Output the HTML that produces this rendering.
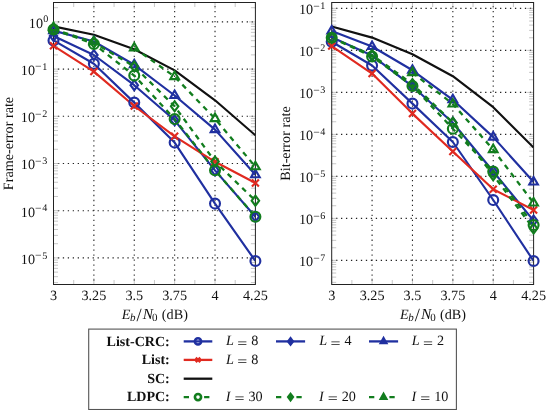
<!DOCTYPE html>
<html><head><meta charset="utf-8"><title>Error rate plots</title>
<style>
html,body{margin:0;padding:0;background:#fff}
svg{display:block}
text{font-family:"Liberation Serif","DejaVu Serif",serif;fill:#111;text-rendering:geometricPrecision}
.tl{font-size:14.2px}
.lb{font-size:14.05px;font-weight:bold}
.sp{font-size:10.1px}
.mn{font-size:11.6px}
.g{stroke:#222;stroke-width:1.1;stroke-dasharray:1.3 3.67;fill:none}
.t{stroke:#999;stroke-width:0.55;fill:none}
</style></head><body>
<svg width="547" height="410" viewBox="0 0 547 410">
<defs>
<clipPath id="cL"><rect x="53.5" y="2.5" width="201.90" height="282.00"/></clipPath>
<clipPath id="cR"><rect x="331.7" y="2.5" width="201.90" height="282.00"/></clipPath>
</defs>
<rect width="547" height="410" fill="#fff"/>
<line x1="93.88" y1="2.5" x2="93.88" y2="284.5" class="g" stroke-dashoffset="1.47"/>
<line x1="134.26" y1="2.5" x2="134.26" y2="284.5" class="g" stroke-dashoffset="1.47"/>
<line x1="174.64" y1="2.5" x2="174.64" y2="284.5" class="g" stroke-dashoffset="1.47"/>
<line x1="215.02" y1="2.5" x2="215.02" y2="284.5" class="g" stroke-dashoffset="1.47"/>
<line x1="53.5" y1="257.90" x2="255.4" y2="257.90" class="g" stroke-dashoffset="0.65"/>
<line x1="53.5" y1="210.70" x2="255.4" y2="210.70" class="g" stroke-dashoffset="0.65"/>
<line x1="53.5" y1="163.50" x2="255.4" y2="163.50" class="g" stroke-dashoffset="0.65"/>
<line x1="53.5" y1="116.30" x2="255.4" y2="116.30" class="g" stroke-dashoffset="0.65"/>
<line x1="53.5" y1="69.10" x2="255.4" y2="69.10" class="g" stroke-dashoffset="0.65"/>
<line x1="53.5" y1="21.90" x2="255.4" y2="21.90" class="g" stroke-dashoffset="0.65"/>
<path d="M53.50 284.5v-6.4M53.50 2.5v6.4" class="t"/>
<path d="M93.88 284.5v-6.4M93.88 2.5v6.4" class="t"/>
<path d="M134.26 284.5v-6.4M134.26 2.5v6.4" class="t"/>
<path d="M174.64 284.5v-6.4M174.64 2.5v6.4" class="t"/>
<path d="M215.02 284.5v-6.4M215.02 2.5v6.4" class="t"/>
<path d="M255.40 284.5v-6.4M255.40 2.5v6.4" class="t"/>
<path d="M73.69 284.5v-4.5M73.69 2.5v4.5" class="t"/>
<path d="M114.07 284.5v-4.5M114.07 2.5v4.5" class="t"/>
<path d="M154.45 284.5v-4.5M154.45 2.5v4.5" class="t"/>
<path d="M194.83 284.5v-4.5M194.83 2.5v4.5" class="t"/>
<path d="M235.21 284.5v-4.5M235.21 2.5v4.5" class="t"/>
<path d="M53.5 282.58h4.5M255.4 282.58h-4.5" class="t"/>
<path d="M53.5 276.68h4.5M255.4 276.68h-4.5" class="t"/>
<path d="M53.5 272.11h4.5M255.4 272.11h-4.5" class="t"/>
<path d="M53.5 268.37h4.5M255.4 268.37h-4.5" class="t"/>
<path d="M53.5 265.21h4.5M255.4 265.21h-4.5" class="t"/>
<path d="M53.5 262.47h4.5M255.4 262.47h-4.5" class="t"/>
<path d="M53.5 260.06h4.5M255.4 260.06h-4.5" class="t"/>
<path d="M53.5 257.90h6.4M255.4 257.90h-6.4" class="t"/>
<path d="M53.5 243.69h4.5M255.4 243.69h-4.5" class="t"/>
<path d="M53.5 235.38h4.5M255.4 235.38h-4.5" class="t"/>
<path d="M53.5 229.48h4.5M255.4 229.48h-4.5" class="t"/>
<path d="M53.5 224.91h4.5M255.4 224.91h-4.5" class="t"/>
<path d="M53.5 221.17h4.5M255.4 221.17h-4.5" class="t"/>
<path d="M53.5 218.01h4.5M255.4 218.01h-4.5" class="t"/>
<path d="M53.5 215.27h4.5M255.4 215.27h-4.5" class="t"/>
<path d="M53.5 212.86h4.5M255.4 212.86h-4.5" class="t"/>
<path d="M53.5 210.70h6.4M255.4 210.70h-6.4" class="t"/>
<path d="M53.5 196.49h4.5M255.4 196.49h-4.5" class="t"/>
<path d="M53.5 188.18h4.5M255.4 188.18h-4.5" class="t"/>
<path d="M53.5 182.28h4.5M255.4 182.28h-4.5" class="t"/>
<path d="M53.5 177.71h4.5M255.4 177.71h-4.5" class="t"/>
<path d="M53.5 173.97h4.5M255.4 173.97h-4.5" class="t"/>
<path d="M53.5 170.81h4.5M255.4 170.81h-4.5" class="t"/>
<path d="M53.5 168.07h4.5M255.4 168.07h-4.5" class="t"/>
<path d="M53.5 165.66h4.5M255.4 165.66h-4.5" class="t"/>
<path d="M53.5 163.50h6.4M255.4 163.50h-6.4" class="t"/>
<path d="M53.5 149.29h4.5M255.4 149.29h-4.5" class="t"/>
<path d="M53.5 140.98h4.5M255.4 140.98h-4.5" class="t"/>
<path d="M53.5 135.08h4.5M255.4 135.08h-4.5" class="t"/>
<path d="M53.5 130.51h4.5M255.4 130.51h-4.5" class="t"/>
<path d="M53.5 126.77h4.5M255.4 126.77h-4.5" class="t"/>
<path d="M53.5 123.61h4.5M255.4 123.61h-4.5" class="t"/>
<path d="M53.5 120.87h4.5M255.4 120.87h-4.5" class="t"/>
<path d="M53.5 118.46h4.5M255.4 118.46h-4.5" class="t"/>
<path d="M53.5 116.30h6.4M255.4 116.30h-6.4" class="t"/>
<path d="M53.5 102.09h4.5M255.4 102.09h-4.5" class="t"/>
<path d="M53.5 93.78h4.5M255.4 93.78h-4.5" class="t"/>
<path d="M53.5 87.88h4.5M255.4 87.88h-4.5" class="t"/>
<path d="M53.5 83.31h4.5M255.4 83.31h-4.5" class="t"/>
<path d="M53.5 79.57h4.5M255.4 79.57h-4.5" class="t"/>
<path d="M53.5 76.41h4.5M255.4 76.41h-4.5" class="t"/>
<path d="M53.5 73.67h4.5M255.4 73.67h-4.5" class="t"/>
<path d="M53.5 71.26h4.5M255.4 71.26h-4.5" class="t"/>
<path d="M53.5 69.10h6.4M255.4 69.10h-6.4" class="t"/>
<path d="M53.5 54.89h4.5M255.4 54.89h-4.5" class="t"/>
<path d="M53.5 46.58h4.5M255.4 46.58h-4.5" class="t"/>
<path d="M53.5 40.68h4.5M255.4 40.68h-4.5" class="t"/>
<path d="M53.5 36.11h4.5M255.4 36.11h-4.5" class="t"/>
<path d="M53.5 32.37h4.5M255.4 32.37h-4.5" class="t"/>
<path d="M53.5 29.21h4.5M255.4 29.21h-4.5" class="t"/>
<path d="M53.5 26.47h4.5M255.4 26.47h-4.5" class="t"/>
<path d="M53.5 24.06h4.5M255.4 24.06h-4.5" class="t"/>
<path d="M53.5 21.90h6.4M255.4 21.90h-6.4" class="t"/>
<path d="M53.5 7.69h4.5M255.4 7.69h-4.5" class="t"/>
<rect x="53.5" y="2.5" width="201.90" height="282.00" fill="none" stroke="#222" stroke-width="1.0"/>
<polyline points="53.50,40.40 93.88,63.80 134.26,102.60 174.64,142.60 215.02,203.60 255.40,261.00" fill="none" stroke="#2030a0" stroke-width="2.15" stroke-linejoin="round" clip-path="url(#cL)"/>
<polyline points="53.50,36.00 93.88,55.00 134.26,85.20 174.64,120.30 215.02,170.40 255.40,216.70" fill="none" stroke="#2030a0" stroke-width="2.15" stroke-linejoin="round" clip-path="url(#cL)"/>
<polyline points="53.50,30.60 93.88,41.50 134.26,64.80 174.64,95.50 215.02,129.60 255.40,174.80" fill="none" stroke="#2030a0" stroke-width="2.15" stroke-linejoin="round" clip-path="url(#cL)"/>
<polyline points="53.50,45.80 93.88,71.60 134.26,106.00 174.64,136.30 215.02,161.80 255.40,183.00" fill="none" stroke="#e02a20" stroke-width="2.15" stroke-linejoin="round" clip-path="url(#cL)"/>
<polyline points="53.50,26.40 93.88,34.80 134.26,49.20 174.64,70.40 215.02,100.30 255.40,135.30" fill="none" stroke="#111" stroke-width="2.15" stroke-linejoin="round" clip-path="url(#cL)"/>
<polyline points="53.50,29.40 93.88,43.90 134.26,75.60 174.64,119.00 215.02,170.30 255.40,216.70" fill="none" stroke="#127d1e" stroke-width="2.3" stroke-dasharray="5.2 4.9" stroke-linejoin="round" clip-path="url(#cL)"/>
<polyline points="53.50,29.00 93.88,42.60 134.26,66.50 174.64,106.30 215.02,161.50 255.40,200.70" fill="none" stroke="#127d1e" stroke-width="2.3" stroke-dasharray="5.2 4.9" stroke-linejoin="round" clip-path="url(#cL)"/>
<polyline points="134.26,48.00 174.64,76.60 215.02,118.60 255.40,166.80" fill="none" stroke="#127d1e" stroke-width="2.3" stroke-dasharray="5.2 4.9" stroke-linejoin="round" clip-path="url(#cL)"/>
<circle cx="53.50" cy="40.40" r="4.95" fill="none" stroke="#2030a0" stroke-width="2.15"/>
<circle cx="93.88" cy="63.80" r="4.95" fill="none" stroke="#2030a0" stroke-width="2.15"/>
<circle cx="134.26" cy="102.60" r="4.95" fill="none" stroke="#2030a0" stroke-width="2.15"/>
<circle cx="174.64" cy="142.60" r="4.95" fill="none" stroke="#2030a0" stroke-width="2.15"/>
<circle cx="215.02" cy="203.60" r="4.95" fill="none" stroke="#2030a0" stroke-width="2.15"/>
<circle cx="255.40" cy="261.00" r="4.95" fill="none" stroke="#2030a0" stroke-width="2.15"/>
<path d="M53.50 31.05L57.21 36.00L53.50 40.95L49.79 36.00Z" fill="none" stroke="#2030a0" stroke-width="2.15" stroke-linejoin="miter"/>
<path d="M93.88 50.05L97.59 55.00L93.88 59.95L90.17 55.00Z" fill="none" stroke="#2030a0" stroke-width="2.15" stroke-linejoin="miter"/>
<path d="M134.26 80.25L137.97 85.20L134.26 90.15L130.55 85.20Z" fill="none" stroke="#2030a0" stroke-width="2.15" stroke-linejoin="miter"/>
<path d="M174.64 115.35L178.35 120.30L174.64 125.25L170.93 120.30Z" fill="none" stroke="#2030a0" stroke-width="2.15" stroke-linejoin="miter"/>
<path d="M215.02 165.45L218.73 170.40L215.02 175.35L211.31 170.40Z" fill="none" stroke="#2030a0" stroke-width="2.15" stroke-linejoin="miter"/>
<path d="M255.40 211.75L259.11 216.70L255.40 221.65L251.69 216.70Z" fill="none" stroke="#2030a0" stroke-width="2.15" stroke-linejoin="miter"/>
<path d="M53.50 25.65L49.21 33.08L57.79 33.08Z" fill="none" stroke="#2030a0" stroke-width="2.15" stroke-linejoin="miter"/>
<path d="M93.88 36.55L89.59 43.98L98.17 43.98Z" fill="none" stroke="#2030a0" stroke-width="2.15" stroke-linejoin="miter"/>
<path d="M134.26 59.85L129.97 67.27L138.55 67.27Z" fill="none" stroke="#2030a0" stroke-width="2.15" stroke-linejoin="miter"/>
<path d="M174.64 90.55L170.35 97.97L178.93 97.97Z" fill="none" stroke="#2030a0" stroke-width="2.15" stroke-linejoin="miter"/>
<path d="M215.02 124.65L210.73 132.07L219.31 132.07Z" fill="none" stroke="#2030a0" stroke-width="2.15" stroke-linejoin="miter"/>
<path d="M255.40 169.85L251.11 177.28L259.69 177.28Z" fill="none" stroke="#2030a0" stroke-width="2.15" stroke-linejoin="miter"/>
<path d="M50.00 42.30L57.00 49.30M50.00 49.30L57.00 42.30" fill="none" stroke="#e02a20" stroke-width="2.15"/>
<path d="M90.38 68.10L97.38 75.10M90.38 75.10L97.38 68.10" fill="none" stroke="#e02a20" stroke-width="2.15"/>
<path d="M130.76 102.50L137.76 109.50M130.76 109.50L137.76 102.50" fill="none" stroke="#e02a20" stroke-width="2.15"/>
<path d="M171.14 132.80L178.14 139.80M171.14 139.80L178.14 132.80" fill="none" stroke="#e02a20" stroke-width="2.15"/>
<path d="M211.52 158.30L218.52 165.30M211.52 165.30L218.52 158.30" fill="none" stroke="#e02a20" stroke-width="2.15"/>
<path d="M251.90 179.50L258.90 186.50M251.90 186.50L258.90 179.50" fill="none" stroke="#e02a20" stroke-width="2.15"/>






<circle cx="53.50" cy="29.40" r="4.95" fill="none" stroke="#127d1e" stroke-width="2.15"/>
<circle cx="93.88" cy="43.90" r="4.95" fill="none" stroke="#127d1e" stroke-width="2.15"/>
<circle cx="134.26" cy="75.60" r="4.95" fill="none" stroke="#127d1e" stroke-width="2.15"/>
<circle cx="174.64" cy="119.00" r="4.95" fill="none" stroke="#127d1e" stroke-width="2.15"/>
<circle cx="215.02" cy="170.30" r="4.95" fill="none" stroke="#127d1e" stroke-width="2.15"/>
<circle cx="255.40" cy="216.70" r="4.95" fill="none" stroke="#127d1e" stroke-width="2.15"/>
<path d="M53.50 24.05L57.21 29.00L53.50 33.95L49.79 29.00Z" fill="none" stroke="#127d1e" stroke-width="2.15" stroke-linejoin="miter"/>
<path d="M93.88 37.65L97.59 42.60L93.88 47.55L90.17 42.60Z" fill="none" stroke="#127d1e" stroke-width="2.15" stroke-linejoin="miter"/>
<path d="M134.26 61.55L137.97 66.50L134.26 71.45L130.55 66.50Z" fill="none" stroke="#127d1e" stroke-width="2.15" stroke-linejoin="miter"/>
<path d="M174.64 101.35L178.35 106.30L174.64 111.25L170.93 106.30Z" fill="none" stroke="#127d1e" stroke-width="2.15" stroke-linejoin="miter"/>
<path d="M215.02 156.55L218.73 161.50L215.02 166.45L211.31 161.50Z" fill="none" stroke="#127d1e" stroke-width="2.15" stroke-linejoin="miter"/>
<path d="M255.40 195.75L259.11 200.70L255.40 205.65L251.69 200.70Z" fill="none" stroke="#127d1e" stroke-width="2.15" stroke-linejoin="miter"/>
<path d="M53.50 22.55L49.21 29.98L57.79 29.98Z" fill="none" stroke="#127d1e" stroke-width="2.15" stroke-linejoin="miter"/>
<path d="M93.88 36.85L89.59 44.27L98.17 44.27Z" fill="none" stroke="#127d1e" stroke-width="2.15" stroke-linejoin="miter"/>
<path d="M134.26 43.05L129.97 50.48L138.55 50.48Z" fill="none" stroke="#127d1e" stroke-width="2.15" stroke-linejoin="miter"/>
<path d="M174.64 71.65L170.35 79.07L178.93 79.07Z" fill="none" stroke="#127d1e" stroke-width="2.15" stroke-linejoin="miter"/>
<path d="M215.02 113.65L210.73 121.07L219.31 121.07Z" fill="none" stroke="#127d1e" stroke-width="2.15" stroke-linejoin="miter"/>
<path d="M255.40 161.85L251.11 169.28L259.69 169.28Z" fill="none" stroke="#127d1e" stroke-width="2.15" stroke-linejoin="miter"/>
<text x="53.50" y="299.7" text-anchor="middle" class="tl">3</text>
<text x="93.88" y="299.7" text-anchor="middle" class="tl">3.25</text>
<text x="134.26" y="299.7" text-anchor="middle" class="tl">3.5</text>
<text x="174.64" y="299.7" text-anchor="middle" class="tl">3.75</text>
<text x="215.02" y="299.7" text-anchor="middle" class="tl">4</text>
<text x="255.40" y="299.7" text-anchor="middle" class="tl">4.25</text>
<text x="47.20" y="258.60" text-anchor="end" class="sp">5</text>
<text x="41.60" y="259.20" text-anchor="end" class="mn">−</text>
<text x="35.00" y="263.80" text-anchor="end" class="tl">10</text>
<text x="47.20" y="211.40" text-anchor="end" class="sp">4</text>
<text x="41.60" y="212.00" text-anchor="end" class="mn">−</text>
<text x="35.00" y="216.60" text-anchor="end" class="tl">10</text>
<text x="47.20" y="164.20" text-anchor="end" class="sp">3</text>
<text x="41.60" y="164.80" text-anchor="end" class="mn">−</text>
<text x="35.00" y="169.40" text-anchor="end" class="tl">10</text>
<text x="47.20" y="117.00" text-anchor="end" class="sp">2</text>
<text x="41.60" y="117.60" text-anchor="end" class="mn">−</text>
<text x="35.00" y="122.20" text-anchor="end" class="tl">10</text>
<text x="47.20" y="69.80" text-anchor="end" class="sp">1</text>
<text x="41.60" y="70.40" text-anchor="end" class="mn">−</text>
<text x="35.00" y="75.00" text-anchor="end" class="tl">10</text>
<text x="48.20" y="22.10" text-anchor="end" class="sp">0</text>
<text x="43.00" y="27.50" text-anchor="end" class="tl">10</text>
<text y="318.5" class="tl"><tspan x="121.75" font-style="italic">E</tspan><tspan x="129.95" dy="2.1" font-size="11" font-style="italic">b</tspan><tspan x="161.85" dy="-2.1">(dB)</tspan><tspan x="142.75" font-style="italic" font-size="15.4">N</tspan><tspan x="151.95" dy="2.1" font-size="11">0</tspan></text>
<text x="136.45" y="320.9" font-size="18.5" class="sl">/</text>
<text transform="translate(12.8,143.50) rotate(-90)" text-anchor="middle" class="tl">Frame-error rate</text>
<line x1="372.08" y1="2.5" x2="372.08" y2="284.5" class="g" stroke-dashoffset="1.47"/>
<line x1="412.46" y1="2.5" x2="412.46" y2="284.5" class="g" stroke-dashoffset="1.47"/>
<line x1="452.84" y1="2.5" x2="452.84" y2="284.5" class="g" stroke-dashoffset="1.47"/>
<line x1="493.22" y1="2.5" x2="493.22" y2="284.5" class="g" stroke-dashoffset="1.47"/>
<line x1="331.7" y1="260.40" x2="533.6" y2="260.40" class="g" stroke-dashoffset="0.65"/>
<line x1="331.7" y1="218.40" x2="533.6" y2="218.40" class="g" stroke-dashoffset="0.65"/>
<line x1="331.7" y1="176.40" x2="533.6" y2="176.40" class="g" stroke-dashoffset="0.65"/>
<line x1="331.7" y1="134.40" x2="533.6" y2="134.40" class="g" stroke-dashoffset="0.65"/>
<line x1="331.7" y1="92.40" x2="533.6" y2="92.40" class="g" stroke-dashoffset="0.65"/>
<line x1="331.7" y1="50.40" x2="533.6" y2="50.40" class="g" stroke-dashoffset="0.65"/>
<line x1="331.7" y1="8.40" x2="533.6" y2="8.40" class="g" stroke-dashoffset="0.65"/>
<path d="M331.70 284.5v-6.4M331.70 2.5v6.4" class="t"/>
<path d="M372.08 284.5v-6.4M372.08 2.5v6.4" class="t"/>
<path d="M412.46 284.5v-6.4M412.46 2.5v6.4" class="t"/>
<path d="M452.84 284.5v-6.4M452.84 2.5v6.4" class="t"/>
<path d="M493.22 284.5v-6.4M493.22 2.5v6.4" class="t"/>
<path d="M533.60 284.5v-6.4M533.60 2.5v6.4" class="t"/>
<path d="M351.89 284.5v-4.5M351.89 2.5v4.5" class="t"/>
<path d="M392.27 284.5v-4.5M392.27 2.5v4.5" class="t"/>
<path d="M432.65 284.5v-4.5M432.65 2.5v4.5" class="t"/>
<path d="M473.03 284.5v-4.5M473.03 2.5v4.5" class="t"/>
<path d="M513.41 284.5v-4.5M513.41 2.5v4.5" class="t"/>
<path d="M331.7 282.36h4.5M533.6 282.36h-4.5" class="t"/>
<path d="M331.7 277.11h4.5M533.6 277.11h-4.5" class="t"/>
<path d="M331.7 273.04h4.5M533.6 273.04h-4.5" class="t"/>
<path d="M331.7 269.72h4.5M533.6 269.72h-4.5" class="t"/>
<path d="M331.7 266.91h4.5M533.6 266.91h-4.5" class="t"/>
<path d="M331.7 264.47h4.5M533.6 264.47h-4.5" class="t"/>
<path d="M331.7 262.32h4.5M533.6 262.32h-4.5" class="t"/>
<path d="M331.7 260.40h6.4M533.6 260.40h-6.4" class="t"/>
<path d="M331.7 247.76h4.5M533.6 247.76h-4.5" class="t"/>
<path d="M331.7 240.36h4.5M533.6 240.36h-4.5" class="t"/>
<path d="M331.7 235.11h4.5M533.6 235.11h-4.5" class="t"/>
<path d="M331.7 231.04h4.5M533.6 231.04h-4.5" class="t"/>
<path d="M331.7 227.72h4.5M533.6 227.72h-4.5" class="t"/>
<path d="M331.7 224.91h4.5M533.6 224.91h-4.5" class="t"/>
<path d="M331.7 222.47h4.5M533.6 222.47h-4.5" class="t"/>
<path d="M331.7 220.32h4.5M533.6 220.32h-4.5" class="t"/>
<path d="M331.7 218.40h6.4M533.6 218.40h-6.4" class="t"/>
<path d="M331.7 205.76h4.5M533.6 205.76h-4.5" class="t"/>
<path d="M331.7 198.36h4.5M533.6 198.36h-4.5" class="t"/>
<path d="M331.7 193.11h4.5M533.6 193.11h-4.5" class="t"/>
<path d="M331.7 189.04h4.5M533.6 189.04h-4.5" class="t"/>
<path d="M331.7 185.72h4.5M533.6 185.72h-4.5" class="t"/>
<path d="M331.7 182.91h4.5M533.6 182.91h-4.5" class="t"/>
<path d="M331.7 180.47h4.5M533.6 180.47h-4.5" class="t"/>
<path d="M331.7 178.32h4.5M533.6 178.32h-4.5" class="t"/>
<path d="M331.7 176.40h6.4M533.6 176.40h-6.4" class="t"/>
<path d="M331.7 163.76h4.5M533.6 163.76h-4.5" class="t"/>
<path d="M331.7 156.36h4.5M533.6 156.36h-4.5" class="t"/>
<path d="M331.7 151.11h4.5M533.6 151.11h-4.5" class="t"/>
<path d="M331.7 147.04h4.5M533.6 147.04h-4.5" class="t"/>
<path d="M331.7 143.72h4.5M533.6 143.72h-4.5" class="t"/>
<path d="M331.7 140.91h4.5M533.6 140.91h-4.5" class="t"/>
<path d="M331.7 138.47h4.5M533.6 138.47h-4.5" class="t"/>
<path d="M331.7 136.32h4.5M533.6 136.32h-4.5" class="t"/>
<path d="M331.7 134.40h6.4M533.6 134.40h-6.4" class="t"/>
<path d="M331.7 121.76h4.5M533.6 121.76h-4.5" class="t"/>
<path d="M331.7 114.36h4.5M533.6 114.36h-4.5" class="t"/>
<path d="M331.7 109.11h4.5M533.6 109.11h-4.5" class="t"/>
<path d="M331.7 105.04h4.5M533.6 105.04h-4.5" class="t"/>
<path d="M331.7 101.72h4.5M533.6 101.72h-4.5" class="t"/>
<path d="M331.7 98.91h4.5M533.6 98.91h-4.5" class="t"/>
<path d="M331.7 96.47h4.5M533.6 96.47h-4.5" class="t"/>
<path d="M331.7 94.32h4.5M533.6 94.32h-4.5" class="t"/>
<path d="M331.7 92.40h6.4M533.6 92.40h-6.4" class="t"/>
<path d="M331.7 79.76h4.5M533.6 79.76h-4.5" class="t"/>
<path d="M331.7 72.36h4.5M533.6 72.36h-4.5" class="t"/>
<path d="M331.7 67.11h4.5M533.6 67.11h-4.5" class="t"/>
<path d="M331.7 63.04h4.5M533.6 63.04h-4.5" class="t"/>
<path d="M331.7 59.72h4.5M533.6 59.72h-4.5" class="t"/>
<path d="M331.7 56.91h4.5M533.6 56.91h-4.5" class="t"/>
<path d="M331.7 54.47h4.5M533.6 54.47h-4.5" class="t"/>
<path d="M331.7 52.32h4.5M533.6 52.32h-4.5" class="t"/>
<path d="M331.7 50.40h6.4M533.6 50.40h-6.4" class="t"/>
<path d="M331.7 37.76h4.5M533.6 37.76h-4.5" class="t"/>
<path d="M331.7 30.36h4.5M533.6 30.36h-4.5" class="t"/>
<path d="M331.7 25.11h4.5M533.6 25.11h-4.5" class="t"/>
<path d="M331.7 21.04h4.5M533.6 21.04h-4.5" class="t"/>
<path d="M331.7 17.72h4.5M533.6 17.72h-4.5" class="t"/>
<path d="M331.7 14.91h4.5M533.6 14.91h-4.5" class="t"/>
<path d="M331.7 12.47h4.5M533.6 12.47h-4.5" class="t"/>
<path d="M331.7 10.32h4.5M533.6 10.32h-4.5" class="t"/>
<path d="M331.7 8.40h6.4M533.6 8.40h-6.4" class="t"/>
<rect x="331.7" y="2.5" width="201.90" height="282.00" fill="none" stroke="#222" stroke-width="1.0"/>
<polyline points="331.70,41.70 372.08,65.50 412.46,103.60 452.84,142.00 493.22,200.00 533.60,261.00" fill="none" stroke="#2030a0" stroke-width="2.15" stroke-linejoin="round" clip-path="url(#cR)"/>
<polyline points="331.70,37.30 372.08,55.60 412.46,86.30 452.84,122.70 493.22,171.50 533.60,220.60" fill="none" stroke="#2030a0" stroke-width="2.15" stroke-linejoin="round" clip-path="url(#cR)"/>
<polyline points="331.70,31.00 372.08,46.50 412.46,70.30 452.84,99.80 493.22,137.10 533.60,182.00" fill="none" stroke="#2030a0" stroke-width="2.15" stroke-linejoin="round" clip-path="url(#cR)"/>
<polyline points="331.70,46.10 372.08,73.60 412.46,113.60 452.84,151.50 493.22,189.30 533.60,210.00" fill="none" stroke="#e02a20" stroke-width="2.15" stroke-linejoin="round" clip-path="url(#cR)"/>
<polyline points="331.70,26.50 372.08,37.60 412.46,54.20 452.84,76.20 493.22,107.20 533.60,147.50" fill="none" stroke="#111" stroke-width="2.15" stroke-linejoin="round" clip-path="url(#cR)"/>
<polyline points="331.70,37.80 372.08,56.40 412.46,86.00 452.84,128.70 493.22,171.50 533.60,225.00" fill="none" stroke="#127d1e" stroke-width="2.3" stroke-dasharray="5.2 4.9" stroke-linejoin="round" clip-path="url(#cR)"/>
<polyline points="331.70,37.80 372.08,55.00 412.46,84.00 452.84,122.70 493.22,175.20 533.60,228.60" fill="none" stroke="#127d1e" stroke-width="2.3" stroke-dasharray="5.2 4.9" stroke-linejoin="round" clip-path="url(#cR)"/>
<polyline points="412.46,72.70 452.84,104.00 493.22,149.60 533.60,203.00" fill="none" stroke="#127d1e" stroke-width="2.3" stroke-dasharray="5.2 4.9" stroke-linejoin="round" clip-path="url(#cR)"/>
<circle cx="331.70" cy="41.70" r="4.95" fill="none" stroke="#2030a0" stroke-width="2.15"/>
<circle cx="372.08" cy="65.50" r="4.95" fill="none" stroke="#2030a0" stroke-width="2.15"/>
<circle cx="412.46" cy="103.60" r="4.95" fill="none" stroke="#2030a0" stroke-width="2.15"/>
<circle cx="452.84" cy="142.00" r="4.95" fill="none" stroke="#2030a0" stroke-width="2.15"/>
<circle cx="493.22" cy="200.00" r="4.95" fill="none" stroke="#2030a0" stroke-width="2.15"/>
<circle cx="533.60" cy="261.00" r="4.95" fill="none" stroke="#2030a0" stroke-width="2.15"/>
<path d="M331.70 32.35L335.41 37.30L331.70 42.25L327.99 37.30Z" fill="none" stroke="#2030a0" stroke-width="2.15" stroke-linejoin="miter"/>
<path d="M372.08 50.65L375.79 55.60L372.08 60.55L368.37 55.60Z" fill="none" stroke="#2030a0" stroke-width="2.15" stroke-linejoin="miter"/>
<path d="M412.46 81.35L416.17 86.30L412.46 91.25L408.75 86.30Z" fill="none" stroke="#2030a0" stroke-width="2.15" stroke-linejoin="miter"/>
<path d="M452.84 117.75L456.55 122.70L452.84 127.65L449.13 122.70Z" fill="none" stroke="#2030a0" stroke-width="2.15" stroke-linejoin="miter"/>
<path d="M493.22 166.55L496.93 171.50L493.22 176.45L489.51 171.50Z" fill="none" stroke="#2030a0" stroke-width="2.15" stroke-linejoin="miter"/>
<path d="M533.60 215.65L537.31 220.60L533.60 225.55L529.89 220.60Z" fill="none" stroke="#2030a0" stroke-width="2.15" stroke-linejoin="miter"/>
<path d="M331.70 26.05L327.41 33.48L335.99 33.48Z" fill="none" stroke="#2030a0" stroke-width="2.15" stroke-linejoin="miter"/>
<path d="M372.08 41.55L367.79 48.97L376.37 48.97Z" fill="none" stroke="#2030a0" stroke-width="2.15" stroke-linejoin="miter"/>
<path d="M412.46 65.35L408.17 72.78L416.75 72.78Z" fill="none" stroke="#2030a0" stroke-width="2.15" stroke-linejoin="miter"/>
<path d="M452.84 94.85L448.55 102.27L457.13 102.27Z" fill="none" stroke="#2030a0" stroke-width="2.15" stroke-linejoin="miter"/>
<path d="M493.22 132.15L488.93 139.57L497.51 139.57Z" fill="none" stroke="#2030a0" stroke-width="2.15" stroke-linejoin="miter"/>
<path d="M533.60 177.05L529.31 184.47L537.89 184.47Z" fill="none" stroke="#2030a0" stroke-width="2.15" stroke-linejoin="miter"/>
<path d="M328.20 42.60L335.20 49.60M328.20 49.60L335.20 42.60" fill="none" stroke="#e02a20" stroke-width="2.15"/>
<path d="M368.58 70.10L375.58 77.10M368.58 77.10L375.58 70.10" fill="none" stroke="#e02a20" stroke-width="2.15"/>
<path d="M408.96 110.10L415.96 117.10M408.96 117.10L415.96 110.10" fill="none" stroke="#e02a20" stroke-width="2.15"/>
<path d="M449.34 148.00L456.34 155.00M449.34 155.00L456.34 148.00" fill="none" stroke="#e02a20" stroke-width="2.15"/>
<path d="M489.72 185.80L496.72 192.80M489.72 192.80L496.72 185.80" fill="none" stroke="#e02a20" stroke-width="2.15"/>
<path d="M530.10 206.50L537.10 213.50M530.10 213.50L537.10 206.50" fill="none" stroke="#e02a20" stroke-width="2.15"/>






<circle cx="331.70" cy="37.80" r="4.95" fill="none" stroke="#127d1e" stroke-width="2.15"/>
<circle cx="372.08" cy="56.40" r="4.95" fill="none" stroke="#127d1e" stroke-width="2.15"/>
<circle cx="412.46" cy="86.00" r="4.95" fill="none" stroke="#127d1e" stroke-width="2.15"/>
<circle cx="452.84" cy="128.70" r="4.95" fill="none" stroke="#127d1e" stroke-width="2.15"/>
<circle cx="493.22" cy="171.50" r="4.95" fill="none" stroke="#127d1e" stroke-width="2.15"/>
<circle cx="533.60" cy="225.00" r="4.95" fill="none" stroke="#127d1e" stroke-width="2.15"/>
<path d="M331.70 32.85L335.41 37.80L331.70 42.75L327.99 37.80Z" fill="none" stroke="#127d1e" stroke-width="2.15" stroke-linejoin="miter"/>
<path d="M372.08 50.05L375.79 55.00L372.08 59.95L368.37 55.00Z" fill="none" stroke="#127d1e" stroke-width="2.15" stroke-linejoin="miter"/>
<path d="M412.46 79.05L416.17 84.00L412.46 88.95L408.75 84.00Z" fill="none" stroke="#127d1e" stroke-width="2.15" stroke-linejoin="miter"/>
<path d="M452.84 117.75L456.55 122.70L452.84 127.65L449.13 122.70Z" fill="none" stroke="#127d1e" stroke-width="2.15" stroke-linejoin="miter"/>
<path d="M493.22 170.25L496.93 175.20L493.22 180.15L489.51 175.20Z" fill="none" stroke="#127d1e" stroke-width="2.15" stroke-linejoin="miter"/>
<path d="M533.60 223.65L537.31 228.60L533.60 233.55L529.89 228.60Z" fill="none" stroke="#127d1e" stroke-width="2.15" stroke-linejoin="miter"/>
<path d="M412.46 67.75L408.17 75.17L416.75 75.17Z" fill="none" stroke="#127d1e" stroke-width="2.15" stroke-linejoin="miter"/>
<path d="M452.84 99.05L448.55 106.47L457.13 106.47Z" fill="none" stroke="#127d1e" stroke-width="2.15" stroke-linejoin="miter"/>
<path d="M493.22 144.65L488.93 152.07L497.51 152.07Z" fill="none" stroke="#127d1e" stroke-width="2.15" stroke-linejoin="miter"/>
<path d="M533.60 198.05L529.31 205.47L537.89 205.47Z" fill="none" stroke="#127d1e" stroke-width="2.15" stroke-linejoin="miter"/>
<text x="331.70" y="299.7" text-anchor="middle" class="tl">3</text>
<text x="372.08" y="299.7" text-anchor="middle" class="tl">3.25</text>
<text x="412.46" y="299.7" text-anchor="middle" class="tl">3.5</text>
<text x="452.84" y="299.7" text-anchor="middle" class="tl">3.75</text>
<text x="493.22" y="299.7" text-anchor="middle" class="tl">4</text>
<text x="533.60" y="299.7" text-anchor="middle" class="tl">4.25</text>
<text x="325.40" y="261.10" text-anchor="end" class="sp">7</text>
<text x="319.80" y="261.70" text-anchor="end" class="mn">−</text>
<text x="313.20" y="266.30" text-anchor="end" class="tl">10</text>
<text x="325.40" y="219.10" text-anchor="end" class="sp">6</text>
<text x="319.80" y="219.70" text-anchor="end" class="mn">−</text>
<text x="313.20" y="224.30" text-anchor="end" class="tl">10</text>
<text x="325.40" y="177.10" text-anchor="end" class="sp">5</text>
<text x="319.80" y="177.70" text-anchor="end" class="mn">−</text>
<text x="313.20" y="182.30" text-anchor="end" class="tl">10</text>
<text x="325.40" y="135.10" text-anchor="end" class="sp">4</text>
<text x="319.80" y="135.70" text-anchor="end" class="mn">−</text>
<text x="313.20" y="140.30" text-anchor="end" class="tl">10</text>
<text x="325.40" y="93.10" text-anchor="end" class="sp">3</text>
<text x="319.80" y="93.70" text-anchor="end" class="mn">−</text>
<text x="313.20" y="98.30" text-anchor="end" class="tl">10</text>
<text x="325.40" y="51.10" text-anchor="end" class="sp">2</text>
<text x="319.80" y="51.70" text-anchor="end" class="mn">−</text>
<text x="313.20" y="56.30" text-anchor="end" class="tl">10</text>
<text x="325.40" y="9.10" text-anchor="end" class="sp">1</text>
<text x="319.80" y="9.70" text-anchor="end" class="mn">−</text>
<text x="313.20" y="14.30" text-anchor="end" class="tl">10</text>
<text y="318.5" class="tl"><tspan x="399.95" font-style="italic">E</tspan><tspan x="408.15" dy="2.1" font-size="11" font-style="italic">b</tspan><tspan x="440.05" dy="-2.1">(dB)</tspan><tspan x="420.95" font-style="italic" font-size="15.4">N</tspan><tspan x="430.15" dy="2.1" font-size="11">0</tspan></text>
<text x="414.65" y="320.9" font-size="18.5" class="sl">/</text>
<text transform="translate(290.0,143.50) rotate(-90)" text-anchor="middle" class="tl">Bit-error rate</text>
<rect x="88.7" y="329.1" width="367.70" height="80.40" fill="#fff" stroke="#555" stroke-width="1.1"/>
<text x="169.8" y="345.9" text-anchor="end" class="lb">List-CRC:</text>
<text x="169.8" y="364.0" text-anchor="end" class="lb">List:</text>
<text x="169.8" y="382.6" text-anchor="end" class="lb">SC:</text>
<text x="169.8" y="401.3" text-anchor="end" class="lb">LDPC:</text>
<path d="M183.70 341.4H212.30" stroke="#2030a0" stroke-width="2.3" fill="none"/>
<circle cx="198.00" cy="341.40" r="3.10" fill="none" stroke="#2030a0" stroke-width="2.6"/>
<text y="345.4" class="tl"><tspan x="226.0" font-style="italic">L</tspan><tspan x="251.30">8</tspan></text>
<text transform="translate(237.20,347.79999999999995) scale(1.25,1)" class="tl">=</text>
<path d="M276.00 341.4H305.10" stroke="#2030a0" stroke-width="2.3" fill="none"/>
<path d="M290.55 338.15L292.99 341.40L290.55 344.65L288.11 341.40Z" fill="#2030a0" stroke="#2030a0" stroke-width="2.3" stroke-linejoin="miter"/>
<text y="345.4" class="tl"><tspan x="319.3" font-style="italic">L</tspan><tspan x="344.60">4</tspan></text>
<text transform="translate(330.50,347.79999999999995) scale(1.25,1)" class="tl">=</text>
<path d="M369.00 341.4H398.10" stroke="#2030a0" stroke-width="2.3" fill="none"/>
<path d="M383.55 338.15L380.74 343.02L386.36 343.02Z" fill="#2030a0" stroke="#2030a0" stroke-width="2.3" stroke-linejoin="miter"/>
<text y="345.4" class="tl"><tspan x="411.8" font-style="italic">L</tspan><tspan x="437.10">2</tspan></text>
<text transform="translate(423.00,347.79999999999995) scale(1.25,1)" class="tl">=</text>
<path d="M183.70 359.9H212.30" stroke="#e02a20" stroke-width="2.3" fill="none"/>
<path d="M195.74 357.64L200.26 362.16M195.74 362.16L200.26 357.64" fill="none" stroke="#e02a20" stroke-width="2.3"/>
<text y="363.5" class="tl"><tspan x="226.0" font-style="italic">L</tspan><tspan x="251.30">8</tspan></text>
<text transform="translate(237.20,365.9) scale(1.25,1)" class="tl">=</text>
<path d="M183.70 378.7H212.30" stroke="#111" stroke-width="2.3" fill="none"/>
<path d="M183.70 397.1h5.3M204.10 397.1h5.3" stroke="#127d1e" stroke-width="2.3" fill="none"/>
<circle cx="198.00" cy="397.10" r="3.10" fill="none" stroke="#127d1e" stroke-width="2.6"/>
<text y="400.8" class="tl"><tspan x="225.7" font-style="italic">I</tspan><tspan x="248.40">30</tspan></text>
<text transform="translate(234.40,403.2) scale(1.25,1)" class="tl">=</text>
<path d="M276.00 397.1h5.3M296.40 397.1h5.3" stroke="#127d1e" stroke-width="2.3" fill="none"/>
<path d="M290.55 393.85L292.99 397.10L290.55 400.35L288.11 397.10Z" fill="#127d1e" stroke="#127d1e" stroke-width="2.3" stroke-linejoin="miter"/>
<text y="400.8" class="tl"><tspan x="319.0" font-style="italic">I</tspan><tspan x="341.70">20</tspan></text>
<text transform="translate(327.70,403.2) scale(1.25,1)" class="tl">=</text>
<path d="M369.00 397.1h5.3M389.40 397.1h5.3" stroke="#127d1e" stroke-width="2.3" fill="none"/>
<path d="M383.55 393.85L380.74 398.73L386.36 398.73Z" fill="#127d1e" stroke="#127d1e" stroke-width="2.3" stroke-linejoin="miter"/>
<text y="400.8" class="tl"><tspan x="411.5" font-style="italic">I</tspan><tspan x="434.20">10</tspan></text>
<text transform="translate(420.20,403.2) scale(1.25,1)" class="tl">=</text>
</svg>
</body></html>
